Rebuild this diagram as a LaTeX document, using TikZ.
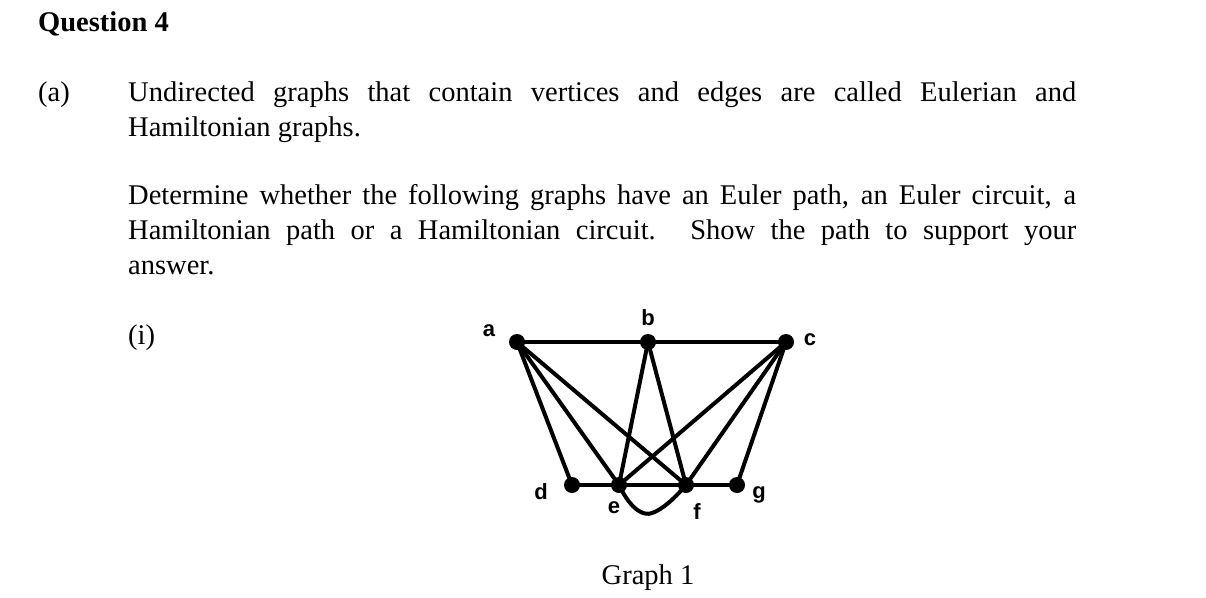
\documentclass[tikz,border=0pt]{standalone}
\usepackage{fontspec}
\setmainfont{Liberation Serif}
\newfontfamily\lsans{Liberation Sans}
\begin{document}
\begin{tikzpicture}[x=1pt,y=-1pt,
  v/.style={circle,fill=black,inner sep=0pt,minimum size=16pt},
  lab/.style={font=\lsans\bfseries\fontsize{22}{26}\selectfont},
  txt/.style={font=\fontsize{28.5}{35}\selectfont,anchor=north west,inner sep=0pt},
  e/.style={line width=4pt}]
\useasboundingbox (0,0) rectangle (1206,597);
\node[txt,font=\bfseries\fontsize{28.5}{35}\selectfont] (q) at (38,12) {Question 4};
\node[txt] (pa) at (38,82) {(a)};
\node[txt,text width=948pt,align=justify] (p1) at (128,82) {\hyphenpenalty=10000 Undirected graphs that contain vertices and edges are called Eulerian and\linebreak Hamiltonian graphs.};
\node[txt,text width=948pt,align=justify] (p2) at (128,184) {\hyphenpenalty=10000 Determine whether the following graphs have an Euler path, an Euler circuit, a\linebreak Hamiltonian path or a Hamiltonian circuit. Show the path to support your\linebreak answer.};
\node[txt] (pi) at (128,325) {(i)};
\node[v] (a) at (517,342) {};
\node[v] (b) at (648,342) {};
\node[v] (c) at (786,342) {};
\node[v] (d) at (572,485) {};
\node[v] (e) at (619,485) {};
\node[v] (f) at (686,485) {};
\node[v] (g) at (737,485) {};
\node[lab] at (489,331) {a};
\node[lab] at (648,318) {b};
\node[lab] at (810,340) {c};
\node[lab] at (541,492) {d};
\node[lab] at (614,508) {e};
\node[lab] at (697,512) {f};
\node[lab] at (759,495) {g};
\draw[e] (a.center)--(b.center)--(c.center);
\draw[e] (d.center)--(e.center)--(f.center)--(g.center);
\foreach \s/\t in {a/d,a/e,a/f,b/e,b/f,c/e,c/f,c/g}
  \draw[e] (\s.center)--(\t.center);
\draw[e] (e.center) .. controls (632,512) and (645,516) .. (652,513) .. controls (662,510) and (676,497) .. (f.center);
\node[font=\fontsize{28.5}{35}\selectfont] (cap) at (648,578) {Graph 1};
\end{tikzpicture}
\end{document}
